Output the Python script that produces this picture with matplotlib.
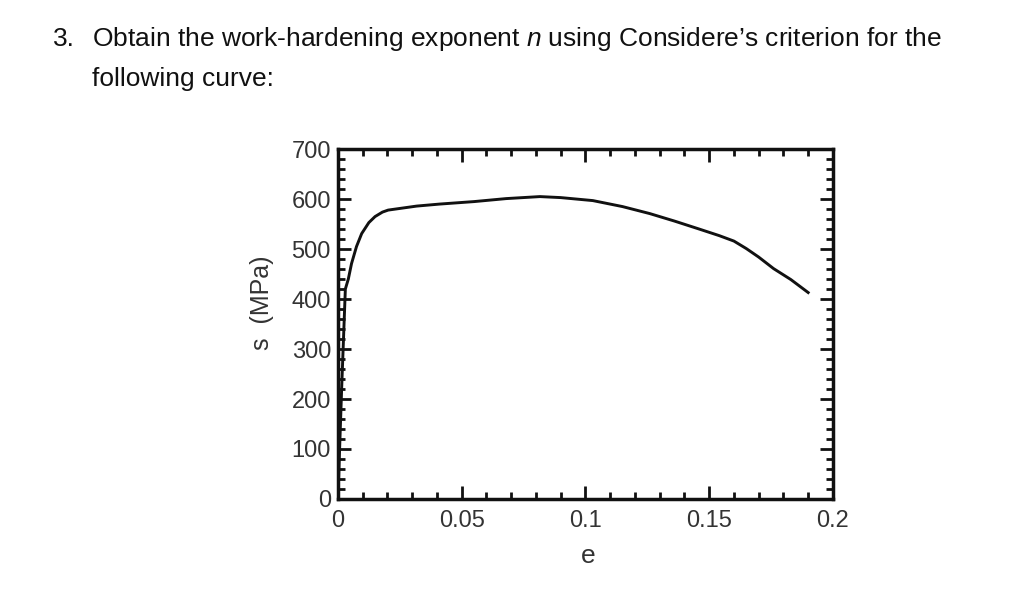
# Engineering stress-strain curve for the Considere criterion question
import matplotlib
matplotlib.use("Agg")
import matplotlib.pyplot as plt
from matplotlib.ticker import MultipleLocator

plt.rcParams['font.family'] = ['Liberation Sans', 'DejaVu Sans']
plt.rcParams['mathtext.fontset'] = 'custom'
plt.rcParams['mathtext.rm'] = 'Liberation Sans'
plt.rcParams['mathtext.it'] = 'Liberation Sans:italic'

# Curve: engineering strain e and stress s (MPa)
strain = [0.0, 0.0015, 0.0030, 0.0042, 0.0055, 0.0075, 0.0096, 0.0125, 0.0150,
          0.0180, 0.0203, 0.0318, 0.0410, 0.0550, 0.0680, 0.0816, 0.0900,
          0.1030, 0.1150, 0.1260, 0.1360, 0.1460, 0.1540, 0.1600, 0.1650,
          0.1700, 0.1760, 0.1830, 0.1900]
stress = [0, 220, 420, 440, 471, 505, 531, 553, 565,
          574, 578, 586, 590, 595, 601, 605, 603,
          597, 585, 571, 556, 540, 527, 516, 501,
          484, 461, 439, 413]

x_ticks = [0, 0.05, 0.1, 0.15, 0.2]
x_labels = ["0", "0.05", "0.1", "0.15", "0.2"]

line1 = "Obtain the work-hardening exponent $n$ using Considere\u2019s criterion for the"
line2 = "following curve:"

fig = plt.figure(figsize=(10.24, 5.91), dpi=100)
fig.text(0.052, 0.922, "3.", fontsize=19, color='#111111', va='baseline')
fig.text(0.090, 0.922, line1, fontsize=19, color='#111111', va='baseline')
fig.text(0.090, 0.854, line2, fontsize=19, color='#111111', va='baseline')

ax = fig.add_axes([0.330, 0.1557, 0.4834, 0.592])
ax.plot(strain, stress, color='#111111', linewidth=2.1)

ax.set_xlim(0, 0.2)
ax.set_ylim(0, 700)
ax.xaxis.set_minor_locator(MultipleLocator(0.01))
ax.yaxis.set_major_locator(MultipleLocator(100))
ax.yaxis.set_minor_locator(MultipleLocator(20))
ax.set_xticks(x_ticks)
ax.set_xticklabels(x_labels)

ax.tick_params(which='both', direction='in', top=True, right=True,
               width=2.0, colors='#111111', labelcolor='#333333', labelsize=17)
ax.tick_params(which='major', length=9.5)
ax.tick_params(which='minor', length=5)
ax.tick_params(axis='x', which='major', pad=8)
ax.tick_params(axis='y', which='major', pad=5)
for spine in ax.spines.values():
    spine.set_linewidth(2.5)
    spine.set_color('#111111')

ax.set_ylabel("s  (MPa)", fontsize=18, color='#333333')
ax.yaxis.set_label_coords(-0.13, 0.56)
ax.set_xlabel("e", fontsize=19, color='#333333')
ax.xaxis.set_label_coords(0.505, -0.13)

fig.savefig("out.png", dpi=100)
